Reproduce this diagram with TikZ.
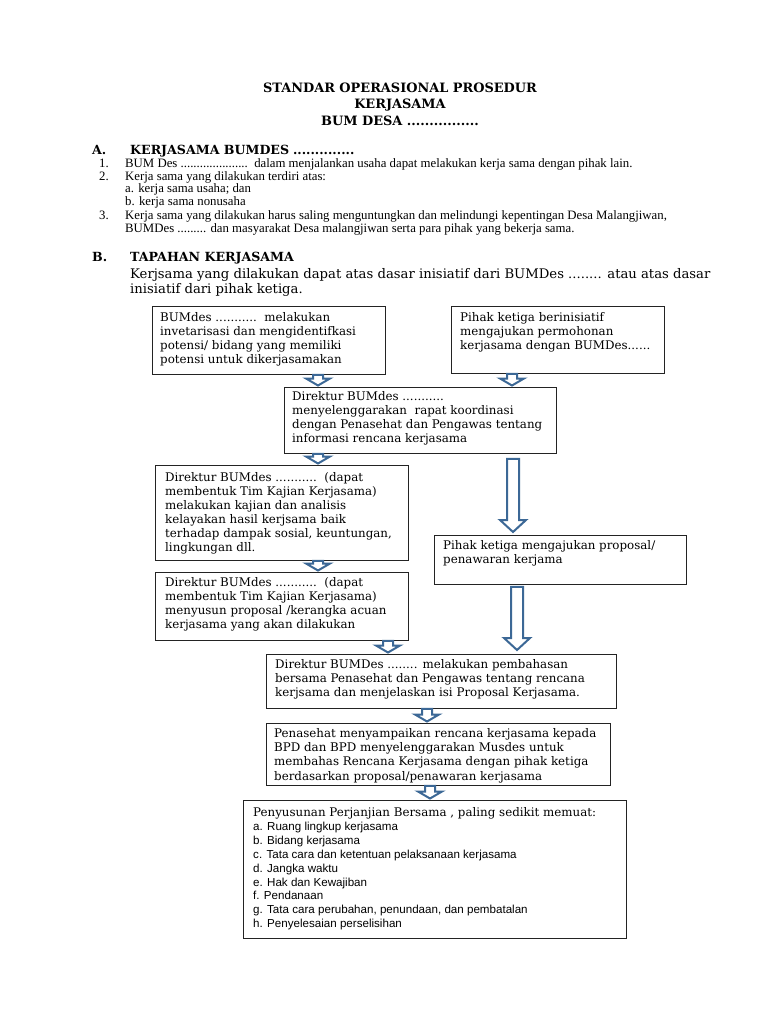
\documentclass[tikz,border=0pt]{standalone}
\usepackage{fontspec}
\setmainfont{Liberation Serif}
\newfontfamily\camb{DejaVu Serif}
\newfontfamily\arialf{Liberation Sans}
\usetikzlibrary{calc}
\definecolor{arrblue}{RGB}{60,104,150}
\definecolor{boxline}{RGB}{35,35,35}
\tikzset{
  box/.style={draw=boxline, line width=0.9pt, inner sep=0pt, anchor=north west},
  btxt/.style={anchor=base west, inner sep=0pt, font=\camb\fontsize{11.85}{14}\selectfont},
  ltxt/.style={anchor=base west, inner sep=0pt, font=\arialf\fontsize{11.6}{13}\selectfont},
  ttl/.style={anchor=base, inner sep=0pt, font=\camb\bfseries\fontsize{12.9}{15}\selectfont},
  hdg/.style={anchor=base west, inner sep=0pt, font=\camb\bfseries\fontsize{12.6}{15}\selectfont},
  para/.style={anchor=base west, inner sep=0pt, font=\camb\fontsize{13.2}{15}\selectfont},
  itm/.style={anchor=base west, inner sep=0pt, font=\fontsize{12.8}{13}\selectfont},
  num/.style={anchor=base east, inner sep=0pt, font=\fontsize{12.8}{13}\selectfont},
  barr/.style={draw=arrblue, fill=white, line width=2pt, line join=miter}
}
\newcommand\blockarrow[5]{%
  \draw[barr] let \p1=#1, \p2=#2 in
    (\x1-#3,\y1) -- (\x1-#3,\y2+#5) -- (\x1-#4,\y2+#5) -- (\x1,\y2)
    -- (\x1+#4,\y2+#5) -- (\x1+#3,\y2+#5) -- (\x1+#3,\y1) -- cycle;}
\newcommand\boxline[4]{\node[btxt] (#1) at (#2,#3) {#4};}
\newcommand\listline[4]{\node[ltxt] (#1) at (#2,#3) {#4};}
\begin{document}
\begin{tikzpicture}[x=1pt,y=-1pt]
\useasboundingbox (0,0) rectangle (768,1024);
\fill[white] (0,0) rectangle (768,1024);

% Title
\node[ttl] (t1) at (400,93) {STANDAR OPERASIONAL PROSEDUR};
\node[ttl] (t2) at (400,109) {KERJASAMA};
\node[ttl] (t3) at (400,126) {BUM DESA ................};

% Section A
\node[hdg] (ha) at (92,155) {A.};
\node[hdg] (hat) at (130,155) {KERJASAMA BUMDES {\kern-0.5pt..............}};
\node[num] (n1) at (109,168) {1.};
\node[itm] (i1) at (125,168) {BUM Des .....................\ \ dalam menjalankan usaha dapat melakukan kerja sama dengan pihak lain.};
\node[num] (n2) at (109,181) {2.};
\node[itm] (i2) at (125,181) {Kerja sama yang dilakukan terdiri atas:};
\node[itm] (i2a) at (125,193) {a. kerja sama usaha; dan};
\node[itm] (i2b) at (125,206) {b. kerja sama nonusaha};
\node[num] (n3) at (109,220) {3.};
\node[itm] (i3) at (125,220) {Kerja sama yang dilakukan harus saling menguntungkan dan melindungi kepentingan Desa Malangjiwan,};
\node[itm] (i3b) at (125,233) {BUMDes ......... dan masyarakat Desa malangjiwan serta para pihak yang bekerja sama.};

% Section B
\node[hdg] (hb) at (92,261) {B.};
\node[hdg] (hbt) at (130,261) {TAPAHAN KERJASAMA};
\node[para] (p1) at (130,278) {Kerjsama yang dilakukan dapat atas dasar inisiatif dari BUMDes ........ atau atas dasar};
\node[para] (p2) at (130,293) {inisiatif dari pihak ketiga.};

% Boxes
\node[box, minimum width=233, minimum height=68] (b1) at (152,306) {};
\node[box, minimum width=213, minimum height=67] (b2) at (451,306) {};
\node[box, minimum width=272, minimum height=66] (b3) at (284,387) {};
\node[box, minimum width=253, minimum height=95] (b4) at (155,465) {};
\node[box, minimum width=253, minimum height=68] (b5) at (155,572) {};
\node[box, minimum width=252, minimum height=49] (b6) at (434,535) {};
\node[box, minimum width=350, minimum height=54] (b7) at (266,654) {};
\node[box, minimum width=344, minimum height=62] (b8) at (266,723) {};
\node[box, minimum width=383, minimum height=138] (b9) at (243,800) {};

% Box texts
\boxline{b1a}{160}{321}{BUMdes ...........\ \ melakukan}
\boxline{b1b}{160}{335}{invetarisasi dan mengidentifkasi}
\boxline{b1c}{160}{349}{potensi/ bidang yang memiliki}
\boxline{b1d}{160}{363}{potensi untuk dikerjasamakan}

\boxline{b2a}{460}{321}{Pihak ketiga berinisiatif}
\boxline{b2b}{460}{335}{mengajukan permohonan}
\boxline{b2c}{460}{349}{kerjasama dengan BUMDes......}

\boxline{b3a}{292}{400}{Direktur BUMdes ...........}
\boxline{b3b}{292}{414}{menyelenggarakan\ \ rapat koordinasi}
\boxline{b3c}{292}{428}{dengan Penasehat dan Pengawas tentang}
\boxline{b3d}{292}{442}{informasi rencana kerjasama}

\boxline{b4a}{165}{481}{Direktur BUMdes ...........\ \ (dapat}
\boxline{b4b}{165}{495}{membentuk Tim Kajian Kerjasama)}
\boxline{b4c}{165}{509}{melakukan kajian dan analisis}
\boxline{b4d}{165}{523}{kelayakan hasil kerjsama baik}
\boxline{b4e}{165}{537}{terhadap dampak sosial, keuntungan,}
\boxline{b4f}{165}{551}{lingkungan dll.}

\boxline{b5a}{165}{586}{Direktur BUMdes ...........\ \ (dapat}
\boxline{b5b}{165}{600}{membentuk Tim Kajian Kerjasama)}
\boxline{b5c}{165}{614}{menyusun proposal /kerangka acuan}
\boxline{b5d}{165}{628}{kerjasama yang akan dilakukan}

\boxline{b6a}{443}{549}{Pihak ketiga mengajukan proposal/}
\boxline{b6b}{443}{563}{penawaran kerjama}

\boxline{b7a}{275}{668}{Direktur BUMDes ........ melakukan pembahasan}
\boxline{b7b}{275}{682}{bersama Penasehat dan Pengawas tentang rencana}
\boxline{b7c}{275}{696}{kerjsama dan menjelaskan isi Proposal Kerjasama.}

\boxline{b8a}{274}{737}{Penasehat menyampaikan rencana kerjasama kepada}
\boxline{b8b}{274}{751}{BPD dan BPD menyelenggarakan Musdes untuk}
\boxline{b8c}{274}{765.5}{membahas Rencana Kerjasama dengan pihak ketiga}
\boxline{b8d}{274}{780}{berdasarkan proposal/penawaran kerjasama}

\boxline{b9h}{253}{816}{Penyusunan Perjanjian Bersama , paling sedikit memuat:}
\listline{b9a}{253}{830}{a. Ruang lingkup kerjasama}
\listline{b9b}{253}{844}{b. Bidang kerjasama}
\listline{b9c}{253}{858}{c. Tata cara dan ketentuan pelaksanaan kerjasama}
\listline{b9d}{253}{872}{d. Jangka waktu}
\listline{b9e}{253}{886}{e. Hak dan Kewajiban}
\listline{b9f}{253}{899.5}{f. Pendanaan}
\listline{b9g}{253}{913.5}{g. Tata cara perubahan, penundaan, dan pembatalan}
\listline{b9i}{253}{927}{h. Penyelesaian perselisihan}

% Block arrows
\blockarrow{([xshift=166pt]b1.south west)}{([yshift=1.5pt]b3.north)}{5pt}{12pt}{7pt}
\blockarrow{([xshift=61pt]b2.south west)}{([yshift=1.5pt]b3.north)}{5pt}{12pt}{7pt}
\blockarrow{([xshift=34pt]b3.south west)}{([yshift=1.5pt]b4.north)}{5pt}{12pt}{7pt}
\blockarrow{([xshift=229pt,yshift=-5pt]b3.south west)}{([yshift=3pt]b6.north)}{6pt}{13pt}{12pt}
\blockarrow{([xshift=163pt]b4.south west)}{([yshift=1.5pt]b5.north)}{5pt}{12pt}{7pt}
\blockarrow{([xshift=233pt]b5.south west)}{([yshift=1.5pt]b7.north)}{5pt}{12pt}{7pt}
\blockarrow{([xshift=83pt,yshift=-2pt]b6.south west)}{([yshift=4pt]b7.north)}{6pt}{13pt}{12pt}
\blockarrow{([xshift=161pt]b7.south west)}{([yshift=1.5pt]b8.north)}{5pt}{12pt}{7pt}
\blockarrow{([xshift=164pt]b8.south west)}{([yshift=1.5pt]b9.north)}{5pt}{12pt}{7pt}
\end{tikzpicture}
\end{document}
